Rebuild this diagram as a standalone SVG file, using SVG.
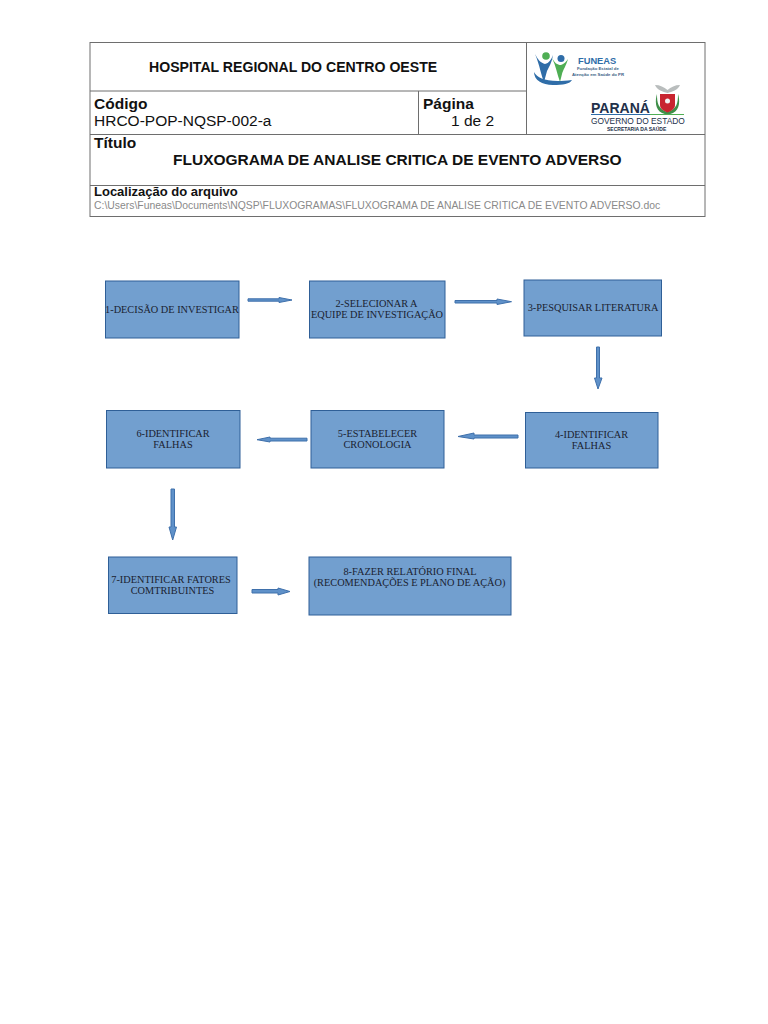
<svg xmlns="http://www.w3.org/2000/svg" width="768" height="1024" viewBox="0 0 768 1024">
<style>
text{font-family:"Liberation Sans",Arial,sans-serif;fill:#111}
.b{font-weight:bold}
.tl{fill:none;stroke:#6e6e6e;stroke-width:1}
.box rect{fill:#729fcf;stroke:#2f5f97;stroke-width:1}
.box text{font-family:"Liberation Serif","Times New Roman",serif;font-size:10.300px;fill:#1a2230;text-anchor:middle}
.arr{fill:#5f91c9;stroke:#3f70ab;stroke-width:1}
</style>
<rect width="768" height="1024" fill="#fff"/>
<g id="header">
<rect class="tl" x="90" y="42.500" width="615" height="174"/>
<path class="tl" d="M90 91H526M90 134.500H705M90 185.500H705M526.500 42V134M418.500 91V134"/>
<text class="b" x="149" y="72" font-size="14.100">HOSPITAL REGIONAL DO CENTRO OESTE</text>
<text class="b" x="94" y="109" font-size="15.500">Código</text>
<text x="94" y="126" font-size="15.500">HRCO-POP-NQSP-002-a</text>
<text class="b" x="423" y="109" font-size="15.500">Página</text>
<text x="451" y="126" font-size="15.500">1 de 2</text>
<text class="b" x="94" y="148" font-size="15.500">Título</text>
<text class="b" x="173" y="165" font-size="15.500">FLUXOGRAMA DE ANALISE CRITICA DE EVENTO ADVERSO</text>
<text class="b" x="94" y="196" font-size="13">Localização do arquivo</text>
<text x="94" y="209" font-size="10.400" style="fill:#8a8a8a">C:\Users\Funeas\Documents\NQSP\FLUXOGRAMAS\FLUXOGRAMA DE ANALISE CRITICA DE EVENTO ADVERSO.doc</text>
</g>
<g id="logo-funeas">
<circle cx="546" cy="56" r="3.800" fill="#4fae54"/>
<circle cx="561" cy="58.500" r="3.500" fill="#2f6da8"/>
<path d="M535 54C538 60 541 63 545 64C549 63 551 60 553 55C552 62 549 67 547 71L544 82C541 75 540 66 535 54Z" fill="#2f6da8"/>
<path d="M552 58C555 63 557 65 561 65C564 64 566 62 568 59C566 66 563 70 562 74L560 82C557 74 556 66 552 58Z" fill="#4fae54"/>
<path d="M534 72C538 79 548 83 572 80C570 84 563 85 553 85C542 85 534 80 534 72Z" fill="#2f6da8"/>
<text class="b" x="578" y="64" font-size="9.300" style="fill:#2f6da8">FUNEAS</text>
<text class="b" x="577" y="70" font-size="4.300" style="fill:#3b5f86">Fundação Estatal de</text>
<text class="b" x="572" y="76" font-size="4.300" style="fill:#3b5f86">Atenção em Saúde do PR</text>
</g>
<g id="logo-parana">
<path d="M655 85C660 85 664 87 667.500 90C671 87 675 85 680 85C678 90 672 92 667.500 93C663 92 657 90 655 85Z" fill="#b9bdbd"/>
<path d="M657 94C655 100 655 110 662 113L667.500 115L673 113C680 110 680 100 678 94C678 103 677 109 667.500 112C658 109 657 103 657 94Z" fill="#3f8f49"/>
<path d="M660 94H675V105C675 109 671 111 667.500 112.500C664 111 660 109 660 105Z" fill="#c8242f"/>
<circle cx="667.500" cy="101" r="2.500" fill="#f2f2f2"/>
<text class="b" x="591" y="113" font-size="14" style="fill:#22304a">PARANÁ</text>
<path d="M591 114.500H650" stroke="#2f6da8" stroke-width="1"/>
<path d="M650 114.500H684" stroke="#4fae54" stroke-width="1"/>
<text x="591" y="123.500" font-size="8.400" style="fill:#22304a">GOVERNO DO ESTADO</text>
<text class="b" x="607" y="130.500" font-size="5" style="fill:#22304a">SECRETARIA DA SAÚDE</text>
</g>
<g id="connectors">
<polygon class="arr" points="248,298.800 279,298.800 279,297.500 292,300 279,302.500 279,301.200 248,301.200"/>
<polygon class="arr" points="455,300.500 497,300.500 497,299 511.500,301.700 497,304.500 497,303 455,303"/>
<polygon class="arr" points="596.500,347 599.500,347 599.500,378 602,378 598,389 594.500,378 596.500,378"/>
<polygon class="arr" points="518,435 474,435 474,433 458,436.500 474,439 474,438 518,438"/>
<polygon class="arr" points="307,438.200 270,438.200 270,437 257,439.700 270,442 270,441 307,441"/>
<polygon class="arr" points="171,489 174.500,489 174.500,527 176.500,527 172.700,540 169,527 171,527"/>
<polygon class="arr" points="252,589.500 278,589.500 278,588 290,591.500 278,595 278,593 252,593"/>
</g>
<g id="node1" class="box"><rect x="105.500" y="281" width="133.500" height="57"/><text x="172" y="312.500">1-DECISÃO DE INVESTIGAR</text></g>
<g id="node2" class="box"><rect x="309.500" y="281" width="135.500" height="57"/><text x="376.500" y="307">2-SELECIONAR A</text><text x="377" y="318">EQUIPE DE INVESTIGAÇÃO</text></g>
<g id="node3" class="box"><rect x="524" y="280" width="137.500" height="56"/><text x="593" y="311">3-PESQUISAR LITERATURA</text></g>
<g id="node4" class="box"><rect x="525.500" y="412.500" width="132.500" height="55.500"/><text x="591.500" y="438">4-IDENTIFICAR</text><text x="591.500" y="449">FALHAS</text></g>
<g id="node5" class="box"><rect x="311" y="410.500" width="133" height="57.500"/><text x="377.500" y="437">5-ESTABELECER</text><text x="377.500" y="448">CRONOLOGIA</text></g>
<g id="node6" class="box"><rect x="106.500" y="410.500" width="133.500" height="57.500"/><text x="173" y="437">6-IDENTIFICAR</text><text x="173" y="448">FALHAS</text></g>
<g id="node7" class="box"><rect x="108.500" y="557" width="128.500" height="56.500"/><text x="171" y="583">7-IDENTIFICAR FATORES</text><text x="172.500" y="594">COMTRIBUINTES</text></g>
<g id="node8" class="box"><rect x="309" y="557" width="202" height="58"/><text x="410" y="575">8-FAZER RELATÓRIO FINAL</text><text x="409.500" y="586">(RECOMENDAÇÕES E PLANO DE AÇÃO)</text></g>
</svg>
